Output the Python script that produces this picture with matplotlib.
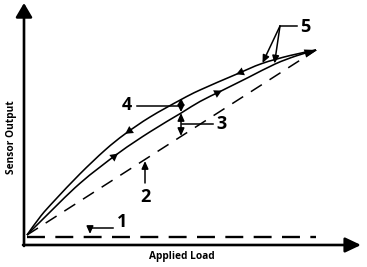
import matplotlib
matplotlib.use("Agg")
import matplotlib.pyplot as plt
from matplotlib.path import Path
from matplotlib.patches import PathPatch

# ---------------- data (load %, output %) ----------------
loading_x = [0, 5.5, 18.3, 31.6, 42.6, 53.3, 59.9, 67.5, 76.5, 85.8, 93.1, 100]
loading_y = [0, 8.6, 27.9, 44.2, 55.8, 65.9, 72.2, 78.1, 85.1, 92.4, 96.8, 100]

unloading_x = [0, 4.8, 9.7, 18.3, 27.0, 33.9, 42.6, 53.3, 59.9, 72.3, 81.3, 91.0, 100]
unloading_y = [0, 10.3, 18.9, 33.0, 45.9, 54.6, 63.8, 73.2, 78.4, 86.8, 92.7, 97.0, 100]

ideal_x = [0, 100]
ideal_y = [0, 100]

zero_x = [0, 100]
zero_y = [-0.9, -0.9]

labels = ["1", "2", "3", "4", "5"]
x_label = "Applied Load"
y_label = "Sensor Output"

# ---------------- figure ----------------
W, H = 367, 267
fig = plt.figure(figsize=(W / 100, H / 100), dpi=100)
ax = fig.add_axes([0, 0, 1, 1])
ax.set_axis_off()

# pixel -> data mapping helper (origin of curves at pixel (27,235), end at (316,50))
X0, Y0, SX, SY = 27.0, 235.0, 2.89, 1.85
def P(px, py):
    return ((px - X0) / SX, (Y0 - py) / SY)

ax.set_xlim(P(0, 0)[0], P(W, 0)[0])
ax.set_ylim(P(0, H)[1], P(0, 0)[1])

FONT = ["Open Sans", "DejaVu Sans"]

def smooth_curve(xs, ys, **kw):
    # Catmull-Rom through the data points, drawn as cubic Bezier path
    pts = list(zip(xs, ys))
    n = len(pts)
    verts = [pts[0]]
    codes = [Path.MOVETO]
    for i in range(n - 1):
        p0 = pts[i - 1] if i > 0 else pts[i]
        p1 = pts[i]
        p2 = pts[i + 1]
        p3 = pts[i + 2] if i + 2 < n else pts[i + 1]
        c1 = (p1[0] + (p2[0] - p0[0]) / 6, p1[1] + (p2[1] - p0[1]) / 6)
        c2 = (p2[0] - (p3[0] - p1[0]) / 6, p2[1] - (p3[1] - p1[1]) / 6)
        verts += [c1, c2, p2]
        codes += [Path.CURVE4] * 3
    ax.add_patch(PathPatch(Path(verts, codes), facecolor="none", **kw))

# axes arrows
ax.annotate("", xy=P(24, 3), xytext=P(24, 246),
            arrowprops=dict(arrowstyle="-|>,head_length=0.85,head_width=0.5",
                            lw=1.9, color="black", shrinkA=0, shrinkB=0))
ax.annotate("", xy=P(361, 245), xytext=P(23, 245),
            arrowprops=dict(arrowstyle="-|>,head_length=0.95,head_width=0.45",
                            lw=1.9, color="black", shrinkA=0, shrinkB=0))

# curves
smooth_curve(unloading_x, unloading_y, edgecolor="black", lw=1.15)
smooth_curve(loading_x, loading_y, edgecolor="black", lw=1.15)
ax.plot(ideal_x, ideal_y, color="black", lw=1.1, dashes=(8.5, 6.0))
ax.plot(zero_x, zero_y, color="black", lw=1.7, dashes=(7.6, 4.4))

def head(x_list, y_list, i0, i1, frac, ha=0.55, hw=0.3):
    # small arrow head along a curve segment between points i0 -> i1
    xa, ya = x_list[i0], y_list[i0]
    xb, yb = x_list[i1], y_list[i1]
    tx, ty = xa + (xb - xa) * frac, ya + (yb - ya) * frac
    sx, sy = xa + (xb - xa) * (frac - 0.05), ya + (yb - ya) * (frac - 0.05)
    ax.annotate("", xy=(tx, ty), xytext=(sx, sy),
                arrowprops=dict(arrowstyle=f"-|>,head_length={ha},head_width={hw}",
                                lw=0.01, color="black", shrinkA=0, shrinkB=0))

# direction heads: loading goes up-right
head(loading_x, loading_y, 2, 3, 0.99)
head(loading_x, loading_y, 6, 7, 0.99)
# unloading goes down-left
head(unloading_x, unloading_y, 6, 5, 0.99)
head(unloading_x, unloading_y, 10, 9, 0.99)
# end head
ax.annotate("", xy=P(317, 50), xytext=P(300, 55),
            arrowprops=dict(arrowstyle="-|>,head_length=0.9,head_width=0.3",
                            lw=0.01, color="black", shrinkA=0, shrinkB=0))

ARR = dict(color="black", lw=1.1, shrinkA=0, shrinkB=0)
TXT = dict(fontsize=13, fontweight="bold", family=FONT, ha="center", va="center")

# label 1
ax.plot(*zip(P(113, 227.7), P(90, 227.7)), color="black", lw=1.1)
ax.annotate("", xy=P(90, 234), xytext=P(90, 227.7),
            arrowprops=dict(arrowstyle="-|>,head_length=0.45,head_width=0.2", **ARR))
ax.text(*P(122, 222), labels[0], **TXT)

# label 2
ax.annotate("", xy=P(145, 161), xytext=P(145, 183),
            arrowprops=dict(arrowstyle="-|>,head_length=0.45,head_width=0.2", **ARR))
ax.text(*P(145, 196.5), labels[1], **TXT)

# label 3
ax.annotate("", xy=P(181, 136), xytext=P(181, 113),
            arrowprops=dict(arrowstyle="<|-|>,head_length=0.45,head_width=0.2", **ARR))
ax.plot(*zip(P(182, 124), P(213, 124)), color="black", lw=1.1)
ax.text(*P(222, 124), labels[2], **TXT)

# label 4
ax.annotate("", xy=P(181, 112), xytext=P(181, 98),
            arrowprops=dict(arrowstyle="<|-|>,head_length=0.4,head_width=0.2", **ARR))
ax.plot(*zip(P(137, 106), P(181, 106)), color="black", lw=1.1)
ax.text(*P(127, 105), labels[3], **TXT)

# label 5
ax.plot(*zip(P(297, 26), P(280, 26)), color="black", lw=1.1)
ax.annotate("", xy=P(262.5, 63), xytext=P(280, 26),
            arrowprops=dict(arrowstyle="-|>,head_length=0.45,head_width=0.2", **ARR))
ax.annotate("", xy=P(274.5, 63.5), xytext=P(280, 26),
            arrowprops=dict(arrowstyle="-|>,head_length=0.45,head_width=0.2", **ARR))
ax.text(*P(305, 27), labels[4], **TXT)

# axis labels
ax.text(*P(182, 257), x_label, fontsize=7.3, fontweight="bold", family=FONT,
        ha="center", va="center")
ax.text(*P(12, 137.5), y_label, fontsize=7.3, fontweight="bold", family=FONT,
        ha="center", va="center", rotation=90)

fig.savefig("out.png", dpi=100)
